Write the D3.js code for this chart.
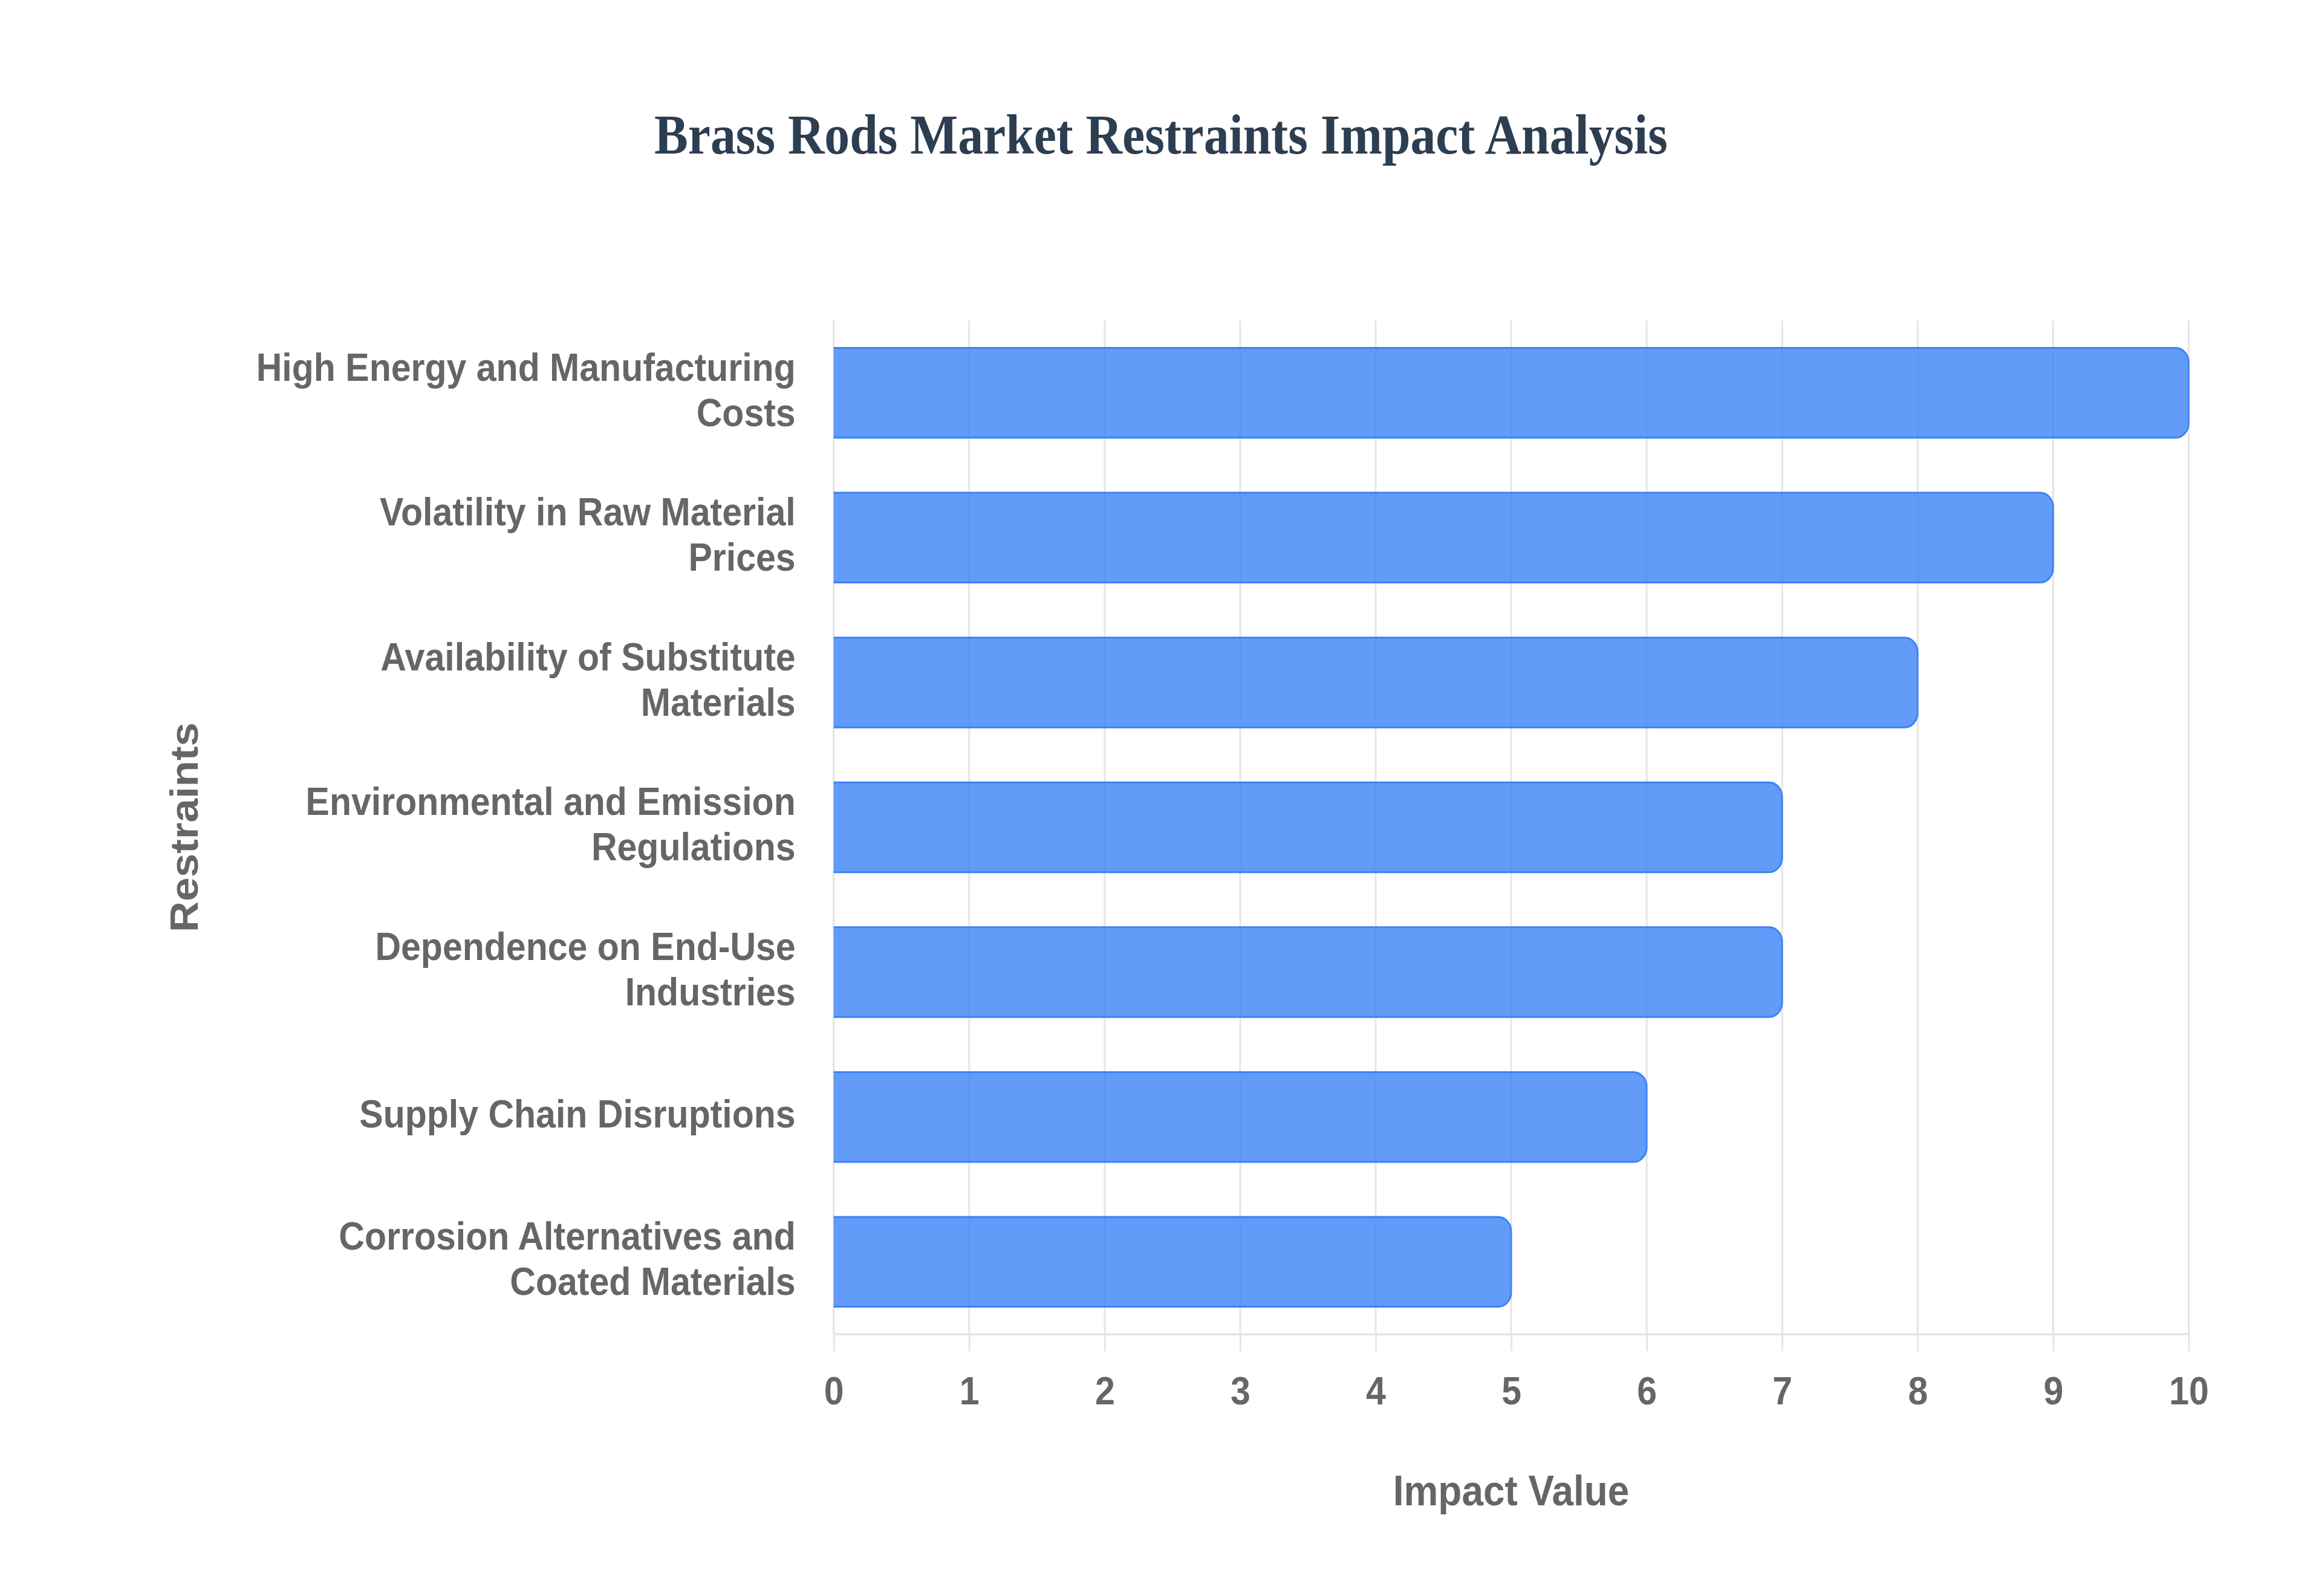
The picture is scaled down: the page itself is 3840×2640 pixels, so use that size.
<!DOCTYPE html>
<html>
<head>
<meta charset="utf-8">
<script src="https://cdn.jsdelivr.net/npm/d3@7"></script>
<style>
  html, body { margin: 0; padding: 0; background: #fff; }
  svg { display: block; }
</style>
</head>
<body>
<div id="chart"></div>
<script>
const chartTitle = "Brass Rods Market Restraints Impact Analysis";
const xTitle = "Impact Value";
const yTitle = "Restraints";

// categories, top to bottom ("\n" = line break in the label)
const categories = [
    "High Energy and Manufacturing\nCosts",
    "Volatility in Raw Material\nPrices",
    "Availability of Substitute\nMaterials",
    "Environmental and Emission\nRegulations",
    "Dependence on End-Use\nIndustries",
    "Supply Chain Disruptions",
    "Corrosion Alternatives and\nCoated Materials"
];
const impactValues = [10, 9, 8, 7, 7, 6, 5];
const xTicks = [0, 1, 2, 3, 4, 5, 6, 7, 8, 9, 10];

// the picture is drawn on a wider canvas and squeezed into 3840 px
const width = 4267;
const height = 2640;

const plot = { left: 1532, right: 4022, top: 530, bottom: 2207 };
const gridColor = "#e5e5e5";
const textColor = "#666";
const sans = "'Liberation Sans', Arial, Helvetica, sans-serif";

const svg = d3.select("#chart").append("svg")
    .attr("width", 3840)
    .attr("height", 2640)
    .attr("viewBox", `0 0 ${width} ${height}`)
    .attr("preserveAspectRatio", "none");

const x = d3.scaleLinear()
    .domain([0, 10])
    .range([plot.left, plot.right]);

const y = d3.scaleBand()
    .domain(categories)
    .range([plot.top, plot.bottom])
    .paddingInner(0.38)
    .paddingOuter(0.19);

// title
svg.append("text")
    .attr("x", width / 2)
    .attr("y", 254)
    .attr("text-anchor", "middle")
    .style("font-family", "'Liberation Serif', 'Times New Roman', serif")
    .style("font-weight", "bold")
    .style("font-size", "93px")
    .style("fill", "#2c3e50")
    .text(chartTitle);

// vertical grid lines
svg.append("g")
    .selectAll("line")
    .data(xTicks)
    .enter().append("line")
    .attr("x1", d => x(d))
    .attr("x2", d => x(d))
    .attr("y1", plot.top)
    .attr("y2", plot.bottom)
    .style("stroke", gridColor)
    .style("stroke-width", 3.3);

// x axis (ticks below the plot)
const xAxis = svg.append("g")
    .attr("transform", `translate(0, ${plot.bottom})`)
    .call(d3.axisBottom(x).tickValues(xTicks).tickSize(28).tickPadding(40).tickFormat(d3.format("d")));
xAxis.select(".domain").remove();
xAxis.selectAll(".tick line")
    .style("stroke", gridColor)
    .style("stroke-width", 3.3);
xAxis.selectAll(".tick text")
    .attr("dy", null)
    .attr("y", 116)
    .style("font-family", sans)
    .style("font-weight", "bold")
    .style("font-size", "65.6px")
    .style("fill", textColor);

// axis border lines
svg.append("line")
    .attr("x1", plot.left).attr("x2", plot.right)
    .attr("y1", plot.bottom).attr("y2", plot.bottom)
    .style("stroke", gridColor)
    .style("stroke-width", 3.5);
svg.append("line")
    .attr("x1", plot.left).attr("x2", plot.left)
    .attr("y1", plot.top).attr("y2", plot.bottom)
    .style("stroke", gridColor)
    .style("stroke-width", 3.5);

// bars, right end rounded
const r = 24;
function barPath(d, i, closed) {
    const x0 = x(0), x1 = x(d), y0 = y(categories[i]), y1 = y0 + y.bandwidth();
    let p = `M${x0},${y0} L${x1 - r},${y0} A${r},${r} 0 0 1 ${x1},${y0 + r} L${x1},${y1 - r} A${r},${r} 0 0 1 ${x1 - r},${y1} L${x0},${y1}`;
    return closed ? p + " Z" : p;
}

const bars = svg.append("g");
bars.selectAll("path.bar")
    .data(impactValues)
    .enter().append("path")
    .attr("class", "bar")
    .attr("d", (d, i) => barPath(d, i, true))
    .style("fill", "rgba(59, 130, 246, 0.8)");
bars.selectAll("path.edge")
    .data(impactValues)
    .enter().append("path")
    .attr("class", "edge")
    .attr("d", (d, i) => barPath(d, i, false))
    .style("fill", "none")
    .style("stroke", "rgb(59, 130, 246)")
    .style("stroke-width", 3);

// category labels, right aligned, multi-line
const lineHeight = 75;
const labels = svg.append("g")
    .selectAll("text")
    .data(categories)
    .enter().append("text")
    .attr("text-anchor", "end")
    .style("font-family", sans)
    .style("font-weight", "bold")
    .style("font-size", "65.6px")
    .style("fill", textColor);

labels.each(function (d) {
    const lines = d.split("\n");
    const cy = y(d) + y.bandwidth() / 2;
    d3.select(this).selectAll("tspan")
        .data(lines)
        .enter().append("tspan")
        .attr("x", plot.left - 70)
        .attr("y", (t, j) => cy + (j - (lines.length - 1) / 2) * lineHeight + 17.5)
        .text(t => t);
});

// axis titles
svg.append("text")
    .attr("x", (plot.left + plot.right) / 2)
    .attr("y", 2490)
    .attr("text-anchor", "middle")
    .style("font-family", sans)
    .style("font-weight", "bold")
    .style("font-size", "71px")
    .style("fill", textColor)
    .text(xTitle);

svg.append("text")
    .attr("transform", `translate(363, ${(plot.top + plot.bottom) / 2}) rotate(-90)`)
    .attr("text-anchor", "middle")
    .style("font-family", sans)
    .style("font-weight", "bold")
    .style("font-size", "71px")
    .style("fill", textColor)
    .text(yTitle);
</script>
</body>
</html>
